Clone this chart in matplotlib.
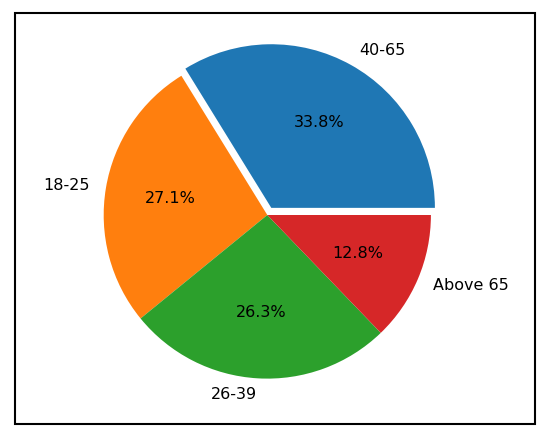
import matplotlib.pyplot as plt
from matplotlib.patches import Rectangle

labels = ['40-65', '18-25', '26-39', 'Above 65']
shares = [33.8, 27.1, 26.3, 12.8]
explode = [0.05, 0, 0, 0]

fig = plt.figure(figsize=(5.5, 4.37), dpi=100)
ax = fig.add_axes([0.114, 0.04, 0.744, 0.936])
ax.pie(shares, labels=labels, explode=explode, autopct='%1.1f%%',
       textprops={'fontsize': 11.5})
ax.set_aspect('equal')

# black frame around the picture
fig.patches.append(Rectangle((0.027, 0.03), 0.946, 0.94, transform=fig.transFigure,
                             fill=False, edgecolor='black', linewidth=1.5))

fig.savefig('out.png', dpi=100)
